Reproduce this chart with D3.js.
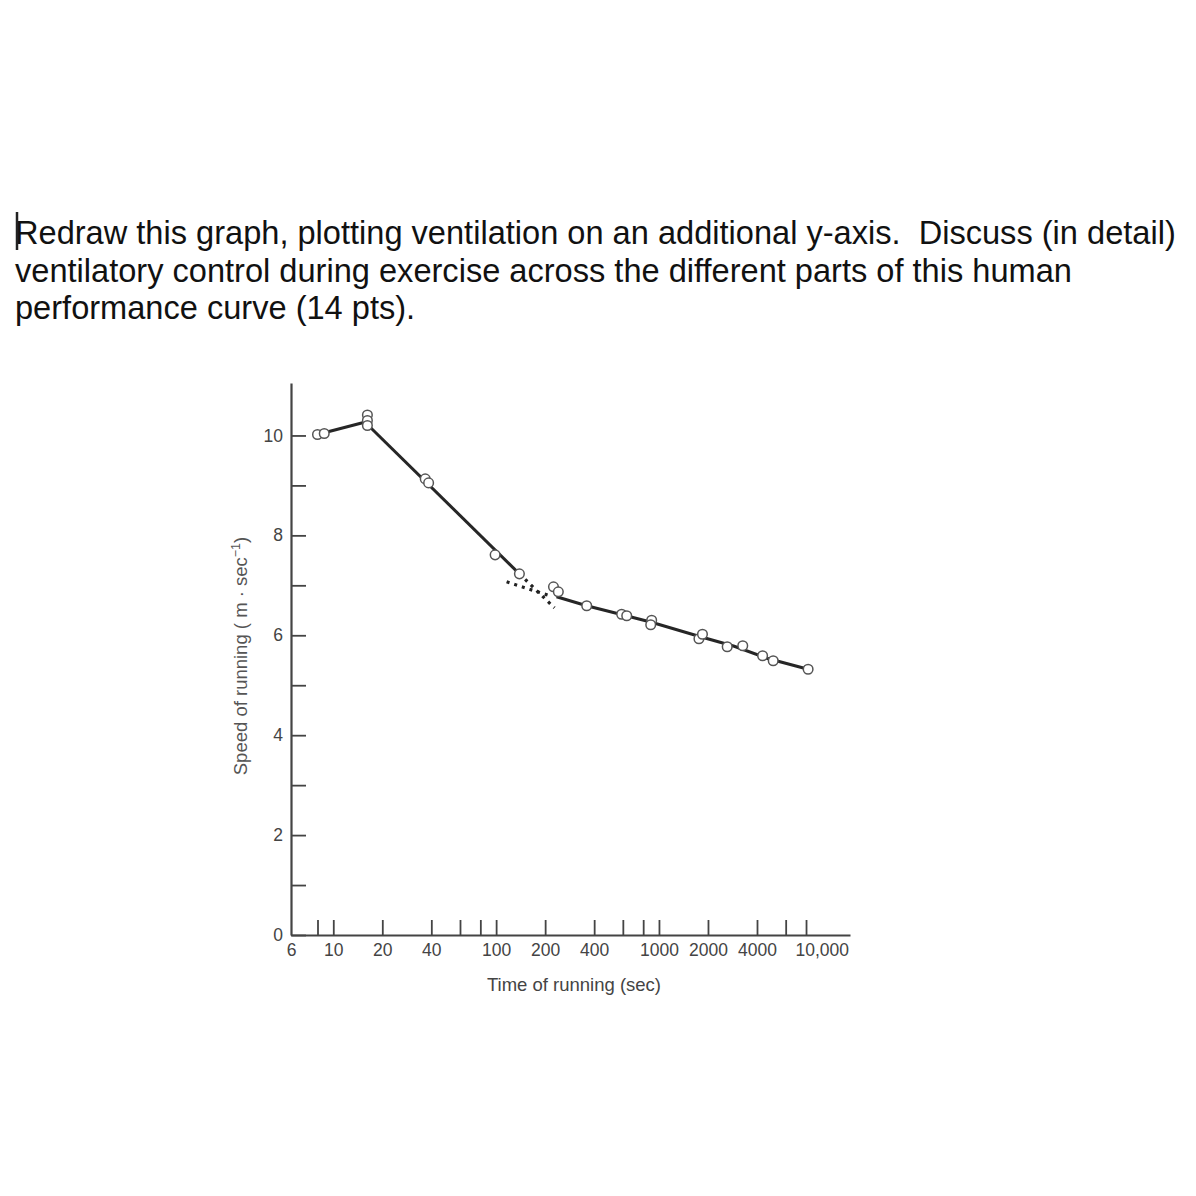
<!DOCTYPE html>
<html>
<head>
<meta charset="utf-8">
<script src="https://cdn.jsdelivr.net/npm/d3@7"></script>
<style>
  body { margin: 0; background: #fff; }
  text { font-family: "Liberation Sans", Arial, sans-serif; }
</style>
</head>
<body>
<div id="container"></div>
<script>
// question text above the graph
var questionLines = [
  "Redraw this graph, plotting ventilation on an additional y-axis.  Discuss (in detail)",
  "ventilatory control during exercise across the different parts of this human",
  "performance curve (14 pts)."
];

// measured points: [time of running (sec), speed (m/sec)]
var points = [
  [8.0, 10.02], [8.8, 10.04],
  [16.2, 10.41], [16.2, 10.3], [16.2, 10.2],
  [36.7, 9.13], [38.5, 9.05],
  [98.6, 7.61], [139, 7.23],
  [225, 6.97], [241, 6.87], [360, 6.59],
  [590, 6.42], [634, 6.39], [902, 6.30], [890, 6.21],
  [1760, 5.93], [1850, 6.02], [2625, 5.77], [3270, 5.79],
  [4330, 5.59], [5030, 5.49], [8240, 5.32]
];

// fitted lines
var sprintLine = [[8.0, 10.02], [16.2, 10.28]];
var upperLine = [[16.2, 10.22], [139, 7.23]];
var lowerLine = [[235, 6.77], [360, 6.59], [612, 6.40], [900, 6.26], [1800, 5.97],
                 [2900, 5.78], [4600, 5.54], [8240, 5.32]];
var upperDotted = [[139, 7.23], [228, 6.55]];
var lowerDotted = [[116, 7.07], [214, 6.79]];

// axis ticks
var xTickMarks = [8, 10, 20, 40, 60, 80, 100, 200, 400, 600, 800, 1000, 2000, 4000, 6000, 8000];
var xTickLabels = [6, 10, 20, 40, 100, 200, 400, 1000, 2000, 4000, 10000];
var yTickLabels = [0, 2, 4, 6, 8, 10];
var yTickMarks = [1, 3, 5, 7, 9];

var svg = d3.select("#container")
  .append("svg")
    .attr("width", 1196)
    .attr("height", 1196);

// question text
svg.append("g")
  .selectAll("text")
  .data(questionLines)
  .enter()
  .append("text")
    .attr("x", 15)
    .attr("y", function(d, i) { return 244 + i * 37.5; })
    .style("font-size", "32.6px")
    .style("white-space", "pre")
    .attr("fill", "#111")
    .text(function(d) { return d; });

// text cursor in front of the first line
svg.append("line")
  .attr("x1", 17).attr("x2", 17)
  .attr("y1", 212).attr("y2", 250)
  .attr("stroke", "#222")
  .attr("stroke-width", 2.5);

// scales
var x = d3.scaleLog()
  .domain([5.5, 14900])
  .range([291, 850]);

var y = d3.scaleLinear()
  .domain([0, 11.05])
  .range([935, 383]);

var axisColor = "#444";

// x axis: tick marks pointing up
svg.append("g")
  .attr("transform", "translate(0," + y(0) + ")")
  .call(d3.axisBottom(x)
    .tickValues(xTickMarks)
    .tickSize(-15)
    .tickSizeOuter(0)
    .tickFormat(""));

// x axis labels
var xAxisLabels = svg.append("g")
  .attr("transform", "translate(0," + y(0) + ")")
  .call(d3.axisBottom(x)
    .tickValues(xTickLabels)
    .tickSize(0)
    .tickPadding(9)
    .tickFormat(function(d) { return d === 10000 ? "10,000" : d; }));
xAxisLabels.select(".domain").remove();
xAxisLabels.selectAll(".tick text")
  .attr("dx", function(d) { return d === 6 ? -6 : 0; });

// y axis: major ticks with labels, minor ticks without
svg.append("g")
  .attr("transform", "translate(" + x.range()[0] + ",0)")
  .call(d3.axisLeft(y)
    .tickValues(yTickLabels)
    .tickSize(-15)
    .tickSizeOuter(0)
    .tickPadding(8));

var yAxisMinor = svg.append("g")
  .attr("transform", "translate(" + x.range()[0] + ",0)")
  .call(d3.axisLeft(y)
    .tickValues(yTickMarks)
    .tickSize(-15)
    .tickSizeOuter(0)
    .tickFormat(""));
yAxisMinor.select(".domain").remove();

svg.selectAll(".domain")
  .attr("stroke", axisColor)
  .attr("stroke-width", 2.2);
svg.selectAll(".tick line")
  .attr("stroke", axisColor)
  .attr("stroke-width", 1.8);
svg.selectAll(".tick text")
  .attr("fill", "#444")
  .style("font-size", "17.5px")
  .style("font-family", "Liberation Sans, Arial, sans-serif");

// axis titles
svg.append("text")
  .attr("x", 574)
  .attr("y", 991)
  .attr("text-anchor", "middle")
  .attr("fill", "#444")
  .style("font-size", "18.5px")
  .text("Time of running (sec)");

var yTitle = svg.append("text")
  .attr("transform", "translate(247,656) rotate(-90)")
  .attr("text-anchor", "middle")
  .attr("fill", "#555")
  .style("font-size", "18.5px");
yTitle.append("tspan").text("Speed of running ( m \u00b7 sec");
yTitle.append("tspan")
  .attr("baseline-shift", "super")
  .style("font-size", "12.5px")
  .text("\u22121");
yTitle.append("tspan").text(")");

// lines
var line = d3.line()
  .x(function(d) { return x(d[0]); })
  .y(function(d) { return y(d[1]); });

svg.selectAll(".solid")
  .data([sprintLine, upperLine, lowerLine])
  .enter()
  .append("path")
    .attr("class", "solid")
    .attr("d", line)
    .attr("fill", "none")
    .attr("stroke", "#262626")
    .attr("stroke-width", 3);

svg.selectAll(".dotted")
  .data([upperDotted, lowerDotted])
  .enter()
  .append("path")
    .attr("class", "dotted")
    .attr("d", line)
    .attr("fill", "none")
    .attr("stroke", "#222")
    .attr("stroke-width", 3.2)
    .attr("stroke-dasharray", "3,5");

// data points
svg.selectAll(".pt")
  .data(points)
  .enter()
  .append("circle")
    .attr("class", "pt")
    .attr("cx", function(d) { return x(d[0]); })
    .attr("cy", function(d) { return y(d[1]); })
    .attr("r", 4.8)
    .attr("fill", "#fff")
    .attr("stroke", "#555")
    .attr("stroke-width", 1.5);
</script>
</body>
</html>
